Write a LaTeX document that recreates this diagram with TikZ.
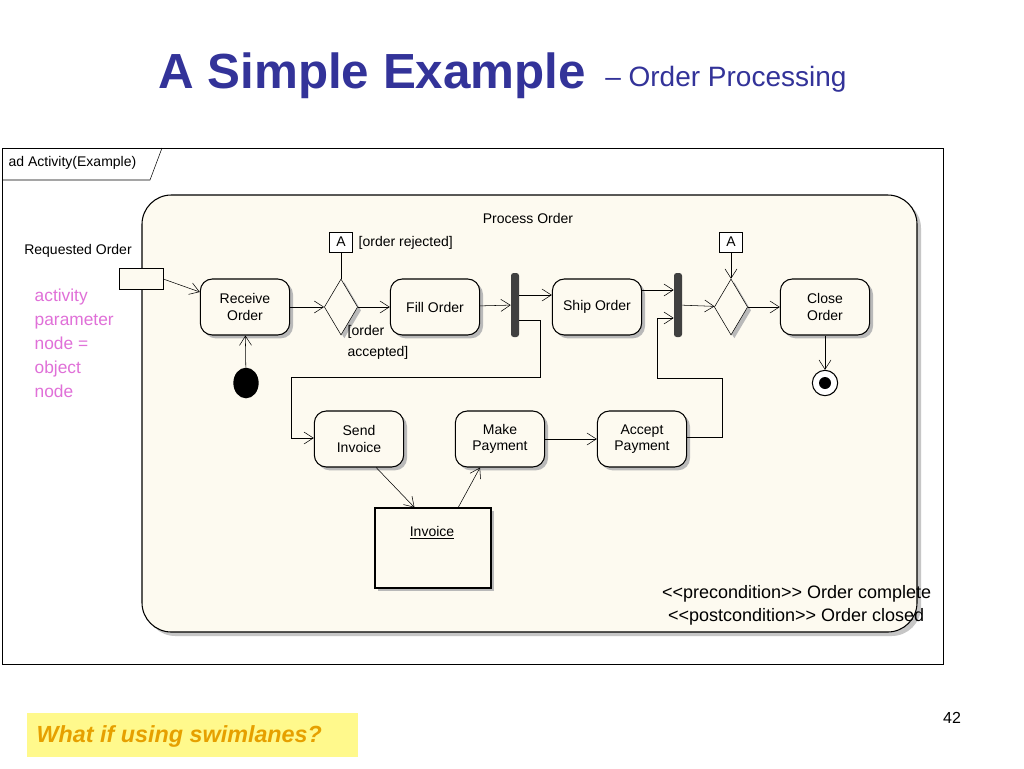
\documentclass[tikz,border=0pt]{standalone}
\usepackage{fontspec}
\setmainfont{Liberation Sans}
\usetikzlibrary{arrows.meta,shapes.geometric,shadows}
\definecolor{cream}{HTML}{FDFAF0}
\definecolor{navy}{HTML}{333399}
\definecolor{pinkt}{HTML}{E070D8}
\definecolor{orng}{HTML}{E6A000}
\begin{document}
\begin{tikzpicture}[x=0.75pt,y=-0.75pt,
  font=\fontsize{10.5}{12.5}\selectfont,
  shd/.style={drop shadow={shadow xshift=2.5pt,shadow yshift=-2.5pt,fill=gray!55,opacity=1}},
  act/.style={draw,thick,rounded corners=9pt,fill=cream,minimum width=67pt,minimum height=42pt,align=center,shd},
  dec/.style={draw,diamond,fill=cream,minimum width=25pt,minimum height=42pt,inner sep=0pt,shd,aspect=0.6},
  bar/.style={fill=black!75,rounded corners=2pt,minimum width=6pt,minimum height=48pt,inner sep=0pt},
  lbl/.style={draw,fill=white,minimum width=17pt,minimum height=15pt,inner sep=1pt},
  arr/.style={-{Straight Barb[length=7pt,width=9pt]}},
  ln/.style={thin}]
\useasboundingbox (0,0) rectangle (1024,768);
\fill[white] (0,0) rectangle (1024,768);
% title
\node[anchor=base west,text=navy,font=\fontsize{37}{42}\selectfont\bfseries,inner sep=0pt] (t1) at (158,88) {A Simple Example};
\node[anchor=base west,text=navy,font=\fontsize{21}{25}\selectfont,inner sep=0pt] (t2) at (605,86) {-- Order Processing};
% frame
\draw[thin] (2,148) rectangle (943,664);
\draw[thin] (2,180) -- (150,180) -- (162,148);
\node[anchor=west] (fl) at (4,163) {ad Activity(Example)};
% process order
\draw[thick,fill=cream,rounded corners=22pt,drop shadow={shadow xshift=3pt,shadow yshift=-3pt,fill=gray!45,opacity=1}] (142,195) rectangle (917,632);
\node (po) at (528,218) {Process Order};
% parameter
\node (rol) at (78,251) {Requested Order};
\node[draw,thin,fill=cream,minimum width=33pt,minimum height=16pt,inner sep=0pt] (par) at (141,279) {};
\node[anchor=north west,align=left,text=pinkt,font=\fontsize{13}{18}\selectfont] (pk) at (30,284) {activity\\parameter\\node =\\object\\node};
% nodes
\node[act] (recv) at (245,307) {Receive\\Order};
\node[fill=black,ellipse,minimum width=19pt,minimum height=23pt,inner sep=0pt] (init) at (246,383) {};
\node[dec] (d1) at (341,307) {};
\node[lbl] (a1) at (341,242) {A};
\node[anchor=west] (rej) at (354,243) {[order rejected]};
\node[anchor=west] (acc1) at (343,332) {[order};
\node (acc2) at (378,353) {accepted]};
\node[act] (fill) at (435,307) {Fill Order};
\node[bar] (f1) at (515,305) {};
\node[act] (ship) at (597,307) {Ship Order};
\node[bar] (f2) at (678,305) {};
\node[dec] (d2) at (731,307) {};
\node[lbl] (a2) at (731,242) {A};
\node[act] (close) at (825,307) {Close\\Order};
\node[draw,thick,circle,fill=white,minimum size=19pt,inner sep=0pt] (fin) at (825,383) {};
\fill (fin) circle (4.5pt);
\node[act] (send) at (359,439) {Send\\Invoice};
\node[act] (make) at (500,439) {Make\\Payment};
\node[act] (accp) at (642,439) {Accept\\Payment};
\node[draw,thick,fill=cream,minimum width=87pt,minimum height=60pt,shd] (inv) at (433,548) {};
\node (invt) at (432,533) {\underline{Invoice}};
\node[anchor=east,font=\fontsize{13.5}{16}\selectfont] (pre) at (936,594) {{<}{<}precondition{>}{>} Order complete};
\node[anchor=east,font=\fontsize{13.5}{16}\selectfont] (post) at (929,617) {{<}{<}postcondition{>}{>} Order closed};
% edges
\draw[arr] (par.east) -- (recv.west|-0,292);
\draw[arr] (init) -- (recv);
\draw[arr] (recv) -- (d1);
\draw (a1) -- (d1.north);
\draw[arr] (d1) -- (fill);
\draw[arr] (fill) -- (f1);
\draw[arr] (f1.east|-0,295) -- (ship.west|-0,295);
\coordinate (b1) at (540,320);
\coordinate (b2) at (540,377);
\coordinate (b3) at (291,377);
\coordinate (b4) at (291,438);
\draw[arr] (f1.east|-b1) -- (b1) -- (b2) -- (b3) -- (b4) -- (send.west|-b4);
\draw[arr] (send.south east) ++(-28,0) -- ([xshift=30pt]inv.north west);
\draw[arr] ([xshift=-25pt]inv.north east) -- ([xshift=-15pt]make.south);
\draw[arr] (make) -- (accp);
\coordinate (c1) at (722,437);
\coordinate (c2) at (722,378);
\coordinate (c3) at (657,378);
\coordinate (c4) at (657,318);
\draw[arr] (accp.east|-c1) -- (c1) -- (c2) -- (c3) -- (c4) -- (f2.west|-c4);
\draw[arr] (ship.east|-0,290) -- (f2.west|-0,290);
\draw[arr] (f2) -- (d2);
\draw[arr] (a2) -- (d2.north);
\draw[arr] (d2) -- (close);
\draw[arr] (close) -- (fin);
% footer
\node (num) at (952,718) {\fontsize{12}{14}\selectfont 42};
\fill[yellow!45] (27,713) rectangle (358,757);
\node[anchor=west,text=orng,font=\fontsize{17.5}{20}\selectfont\bfseries\itshape] (q) at (32,736) {What if using swimlanes?};
\end{tikzpicture}
\end{document}
